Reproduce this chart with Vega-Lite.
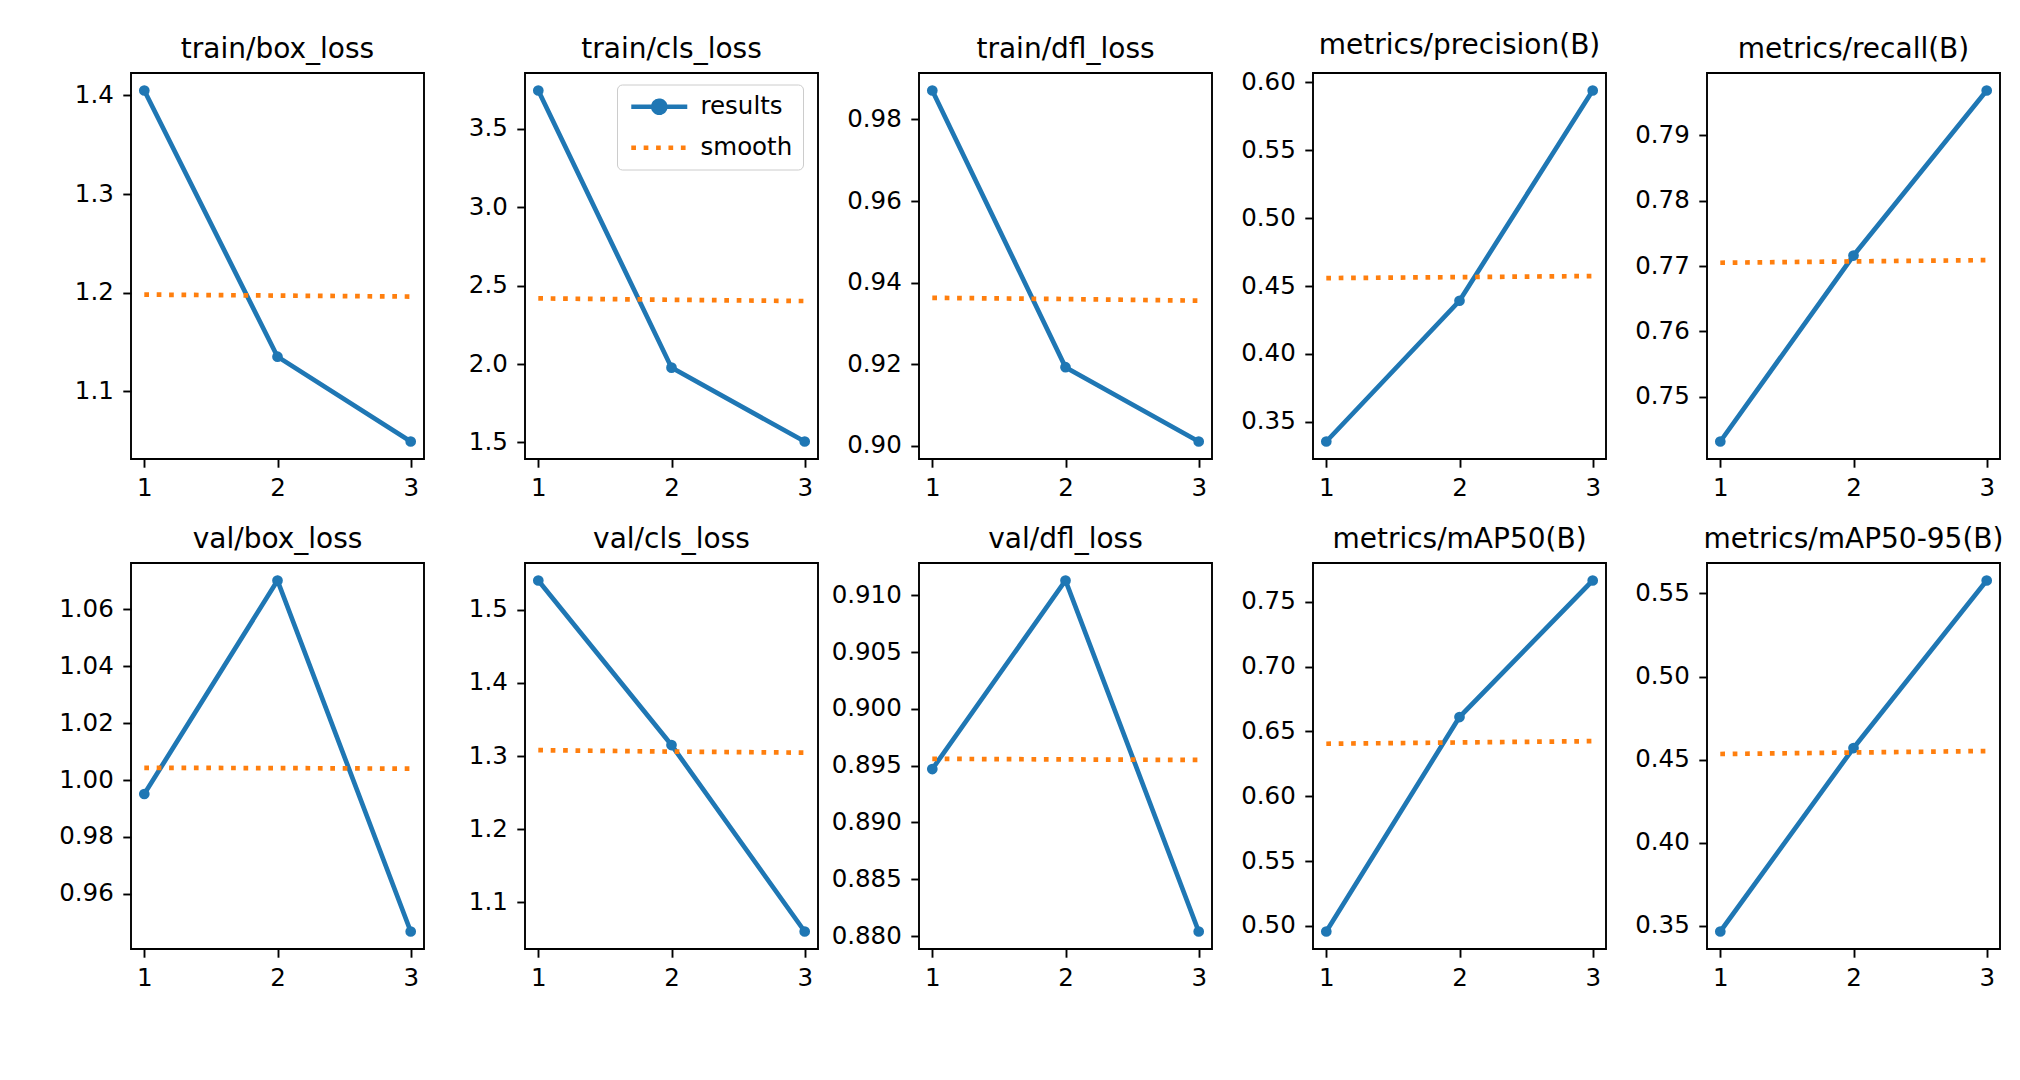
{
  "$schema": "https://vega.github.io/schema/vega-lite/v6.json",
  "background": "white",
  "padding": {"left": 57, "top": 31, "right": 10, "bottom": 10},
  "data": {
    "values": [
      {"metric": "train/box_loss", "epoch": 1, "series": "results", "value": 1.405},
      {"metric": "train/box_loss", "epoch": 2, "series": "results", "value": 1.135},
      {"metric": "train/box_loss", "epoch": 3, "series": "results", "value": 1.049},
      {"metric": "train/box_loss", "epoch": 1, "series": "smooth", "value": 1.198},
      {"metric": "train/box_loss", "epoch": 2, "series": "smooth", "value": 1.197},
      {"metric": "train/box_loss", "epoch": 3, "series": "smooth", "value": 1.196},
      {"metric": "train/cls_loss", "epoch": 1, "series": "results", "value": 3.745},
      {"metric": "train/cls_loss", "epoch": 2, "series": "results", "value": 1.977},
      {"metric": "train/cls_loss", "epoch": 3, "series": "results", "value": 1.506},
      {"metric": "train/cls_loss", "epoch": 1, "series": "smooth", "value": 2.419},
      {"metric": "train/cls_loss", "epoch": 2, "series": "smooth", "value": 2.41},
      {"metric": "train/cls_loss", "epoch": 3, "series": "smooth", "value": 2.402},
      {"metric": "train/dfl_loss", "epoch": 1, "series": "results", "value": 0.9871},
      {"metric": "train/dfl_loss", "epoch": 2, "series": "results", "value": 0.9193},
      {"metric": "train/dfl_loss", "epoch": 3, "series": "results", "value": 0.9011},
      {"metric": "train/dfl_loss", "epoch": 1, "series": "smooth", "value": 0.9363},
      {"metric": "train/dfl_loss", "epoch": 2, "series": "smooth", "value": 0.936},
      {"metric": "train/dfl_loss", "epoch": 3, "series": "smooth", "value": 0.9356},
      {"metric": "metrics/precision(B)", "epoch": 1, "series": "results", "value": 0.3355},
      {"metric": "metrics/precision(B)", "epoch": 2, "series": "results", "value": 0.4392},
      {"metric": "metrics/precision(B)", "epoch": 3, "series": "results", "value": 0.5941},
      {"metric": "metrics/precision(B)", "epoch": 1, "series": "smooth", "value": 0.4559},
      {"metric": "metrics/precision(B)", "epoch": 2, "series": "smooth", "value": 0.4566},
      {"metric": "metrics/precision(B)", "epoch": 3, "series": "smooth", "value": 0.4574},
      {"metric": "metrics/recall(B)", "epoch": 1, "series": "results", "value": 0.7432},
      {"metric": "metrics/recall(B)", "epoch": 2, "series": "results", "value": 0.7716},
      {"metric": "metrics/recall(B)", "epoch": 3, "series": "results", "value": 0.7968},
      {"metric": "metrics/recall(B)", "epoch": 1, "series": "smooth", "value": 0.7705},
      {"metric": "metrics/recall(B)", "epoch": 2, "series": "smooth", "value": 0.7707},
      {"metric": "metrics/recall(B)", "epoch": 3, "series": "smooth", "value": 0.7709},
      {"metric": "val/box_loss", "epoch": 1, "series": "results", "value": 0.9951},
      {"metric": "val/box_loss", "epoch": 2, "series": "results", "value": 1.0701},
      {"metric": "val/box_loss", "epoch": 3, "series": "results", "value": 0.9468},
      {"metric": "val/box_loss", "epoch": 1, "series": "smooth", "value": 1.0043},
      {"metric": "val/box_loss", "epoch": 2, "series": "smooth", "value": 1.0042},
      {"metric": "val/box_loss", "epoch": 3, "series": "smooth", "value": 1.004},
      {"metric": "val/cls_loss", "epoch": 1, "series": "results", "value": 1.54},
      {"metric": "val/cls_loss", "epoch": 2, "series": "results", "value": 1.315},
      {"metric": "val/cls_loss", "epoch": 3, "series": "results", "value": 1.06},
      {"metric": "val/cls_loss", "epoch": 1, "series": "smooth", "value": 1.308},
      {"metric": "val/cls_loss", "epoch": 2, "series": "smooth", "value": 1.306},
      {"metric": "val/cls_loss", "epoch": 3, "series": "smooth", "value": 1.3046},
      {"metric": "val/dfl_loss", "epoch": 1, "series": "results", "value": 0.8947},
      {"metric": "val/dfl_loss", "epoch": 2, "series": "results", "value": 0.9113},
      {"metric": "val/dfl_loss", "epoch": 3, "series": "results", "value": 0.8804},
      {"metric": "val/dfl_loss", "epoch": 1, "series": "smooth", "value": 0.8956},
      {"metric": "val/dfl_loss", "epoch": 2, "series": "smooth", "value": 0.89555},
      {"metric": "val/dfl_loss", "epoch": 3, "series": "smooth", "value": 0.8955},
      {"metric": "metrics/mAP50(B)", "epoch": 1, "series": "results", "value": 0.4956},
      {"metric": "metrics/mAP50(B)", "epoch": 2, "series": "results", "value": 0.6611},
      {"metric": "metrics/mAP50(B)", "epoch": 3, "series": "results", "value": 0.7665},
      {"metric": "metrics/mAP50(B)", "epoch": 1, "series": "smooth", "value": 0.6405},
      {"metric": "metrics/mAP50(B)", "epoch": 2, "series": "smooth", "value": 0.6415},
      {"metric": "metrics/mAP50(B)", "epoch": 3, "series": "smooth", "value": 0.6425},
      {"metric": "metrics/mAP50-95(B)", "epoch": 1, "series": "results", "value": 0.3466},
      {"metric": "metrics/mAP50-95(B)", "epoch": 2, "series": "results", "value": 0.457},
      {"metric": "metrics/mAP50-95(B)", "epoch": 3, "series": "results", "value": 0.5578},
      {"metric": "metrics/mAP50-95(B)", "epoch": 1, "series": "smooth", "value": 0.4534},
      {"metric": "metrics/mAP50-95(B)", "epoch": 2, "series": "smooth", "value": 0.4543},
      {"metric": "metrics/mAP50-95(B)", "epoch": 3, "series": "smooth", "value": 0.4552}
    ]
  },
  "columns": 5,
  "bounds": "flush",
  "spacing": {"column": 101, "row": 104},
  "concat": [
    {
      "title": "train/box_loss",
      "width": 293, "height": 386,
      "transform": [{"filter": {"field": "metric", "equal": "train/box_loss"}}],
      "layer": [
        {
          "transform": [{"filter": {"field": "series", "equal": "results"}}],
          "mark": {"type": "line", "strokeWidth": 4.7, "point": {"filled": true, "size": 115, "opacity": 1}},
          "encoding": {
            "x": {"field": "epoch", "type": "quantitative", "scale": {"domain": [1, 3], "nice": false, "padding": 13.3}, "axis": {"values": [1, 2, 3], "format": "d", "title": null}},
            "y": {"field": "value", "type": "quantitative", "scale": {"zero": false, "nice": false, "padding": 17.5}, "axis": {"title": null}},
            "color": {
              "field": "series", "type": "nominal",
              "scale": {"domain": ["results", "smooth"], "range": ["#1f77b4", "#ff7f0e"]},
              "legend": {
                "orient": "none", "legendX": 486, "legendY": 11.5, "title": null,
                "encode": {
                  "symbols": {
                    "update": {
                      "shape": {"signal": "datum.value === 'results' ? 'M-1.14,0H6.86M2.01,0A0.85,0.85 0 1 1 3.71,0A0.85,0.85 0 1 1 2.01,0' : 'M-1.14,0H6.86'"},
                      "fill": {"signal": "datum.value === 'results' ? '#1f77b4' : 'transparent'"},
                      "stroke": {"signal": "datum.value === 'results' ? '#1f77b4' : '#ff7f0e'"},
                      "strokeDash": {"signal": "datum.value === 'smooth' ? [4.7, 7.7] : [1, 0]"},
                      "strokeWidth": {"value": 4.7},
                      "opacity": {"value": 1}
                    }
                  }
                }
              }
            }
          }
        },
        {
          "transform": [{"filter": {"field": "series", "equal": "smooth"}}],
          "mark": {"type": "line", "strokeWidth": 4.7, "strokeDash": [4.7, 7.7]},
          "encoding": {
            "x": {"field": "epoch", "type": "quantitative"},
            "y": {"field": "value", "type": "quantitative"},
            "color": {"field": "series", "type": "nominal"}
          }
        }
      ]
    },
    {
      "title": "train/cls_loss",
      "width": 293, "height": 386,
      "transform": [{"filter": {"field": "metric", "equal": "train/cls_loss"}}],
      "layer": [
        {
          "transform": [{"filter": {"field": "series", "equal": "results"}}],
          "mark": {"type": "line", "strokeWidth": 4.7, "point": {"filled": true, "size": 115, "opacity": 1}},
          "encoding": {
            "x": {"field": "epoch", "type": "quantitative", "scale": {"domain": [1, 3], "nice": false, "padding": 13.3}, "axis": {"values": [1, 2, 3], "format": "d", "title": null}},
            "y": {"field": "value", "type": "quantitative", "scale": {"zero": false, "nice": false, "padding": 17.5}, "axis": {"title": null}},
            "color": {"field": "series", "type": "nominal"}
          }
        },
        {
          "transform": [{"filter": {"field": "series", "equal": "smooth"}}],
          "mark": {"type": "line", "strokeWidth": 4.7, "strokeDash": [4.7, 7.7]},
          "encoding": {
            "x": {"field": "epoch", "type": "quantitative"},
            "y": {"field": "value", "type": "quantitative"},
            "color": {"field": "series", "type": "nominal"}
          }
        }
      ]
    },
    {
      "title": "train/dfl_loss",
      "width": 293, "height": 386,
      "transform": [{"filter": {"field": "metric", "equal": "train/dfl_loss"}}],
      "layer": [
        {
          "transform": [{"filter": {"field": "series", "equal": "results"}}],
          "mark": {"type": "line", "strokeWidth": 4.7, "point": {"filled": true, "size": 115, "opacity": 1}},
          "encoding": {
            "x": {"field": "epoch", "type": "quantitative", "scale": {"domain": [1, 3], "nice": false, "padding": 13.3}, "axis": {"values": [1, 2, 3], "format": "d", "title": null}},
            "y": {"field": "value", "type": "quantitative", "scale": {"zero": false, "nice": false, "padding": 17.5}, "axis": {"title": null}},
            "color": {"field": "series", "type": "nominal"}
          }
        },
        {
          "transform": [{"filter": {"field": "series", "equal": "smooth"}}],
          "mark": {"type": "line", "strokeWidth": 4.7, "strokeDash": [4.7, 7.7]},
          "encoding": {
            "x": {"field": "epoch", "type": "quantitative"},
            "y": {"field": "value", "type": "quantitative"},
            "color": {"field": "series", "type": "nominal"}
          }
        }
      ]
    },
    {
      "title": "metrics/precision(B)",
      "width": 293, "height": 386,
      "transform": [{"filter": {"field": "metric", "equal": "metrics/precision(B)"}}],
      "layer": [
        {
          "transform": [{"filter": {"field": "series", "equal": "results"}}],
          "mark": {"type": "line", "strokeWidth": 4.7, "point": {"filled": true, "size": 115, "opacity": 1}},
          "encoding": {
            "x": {"field": "epoch", "type": "quantitative", "scale": {"domain": [1, 3], "nice": false, "padding": 13.3}, "axis": {"values": [1, 2, 3], "format": "d", "title": null}},
            "y": {"field": "value", "type": "quantitative", "scale": {"zero": false, "nice": false, "padding": 17.5}, "axis": {"title": null}},
            "color": {"field": "series", "type": "nominal"}
          }
        },
        {
          "transform": [{"filter": {"field": "series", "equal": "smooth"}}],
          "mark": {"type": "line", "strokeWidth": 4.7, "strokeDash": [4.7, 7.7]},
          "encoding": {
            "x": {"field": "epoch", "type": "quantitative"},
            "y": {"field": "value", "type": "quantitative"},
            "color": {"field": "series", "type": "nominal"}
          }
        }
      ]
    },
    {
      "title": "metrics/recall(B)",
      "width": 293, "height": 386,
      "transform": [{"filter": {"field": "metric", "equal": "metrics/recall(B)"}}],
      "layer": [
        {
          "transform": [{"filter": {"field": "series", "equal": "results"}}],
          "mark": {"type": "line", "strokeWidth": 4.7, "point": {"filled": true, "size": 115, "opacity": 1}},
          "encoding": {
            "x": {"field": "epoch", "type": "quantitative", "scale": {"domain": [1, 3], "nice": false, "padding": 13.3}, "axis": {"values": [1, 2, 3], "format": "d", "title": null}},
            "y": {"field": "value", "type": "quantitative", "scale": {"zero": false, "nice": false, "padding": 17.5}, "axis": {"title": null}},
            "color": {"field": "series", "type": "nominal"}
          }
        },
        {
          "transform": [{"filter": {"field": "series", "equal": "smooth"}}],
          "mark": {"type": "line", "strokeWidth": 4.7, "strokeDash": [4.7, 7.7]},
          "encoding": {
            "x": {"field": "epoch", "type": "quantitative"},
            "y": {"field": "value", "type": "quantitative"},
            "color": {"field": "series", "type": "nominal"}
          }
        }
      ]
    },
    {
      "title": "val/box_loss",
      "width": 293, "height": 386,
      "transform": [{"filter": {"field": "metric", "equal": "val/box_loss"}}],
      "layer": [
        {
          "transform": [{"filter": {"field": "series", "equal": "results"}}],
          "mark": {"type": "line", "strokeWidth": 4.7, "point": {"filled": true, "size": 115, "opacity": 1}},
          "encoding": {
            "x": {"field": "epoch", "type": "quantitative", "scale": {"domain": [1, 3], "nice": false, "padding": 13.3}, "axis": {"values": [1, 2, 3], "format": "d", "title": null}},
            "y": {"field": "value", "type": "quantitative", "scale": {"zero": false, "nice": false, "padding": 17.5}, "axis": {"title": null}},
            "color": {"field": "series", "type": "nominal"}
          }
        },
        {
          "transform": [{"filter": {"field": "series", "equal": "smooth"}}],
          "mark": {"type": "line", "strokeWidth": 4.7, "strokeDash": [4.7, 7.7]},
          "encoding": {
            "x": {"field": "epoch", "type": "quantitative"},
            "y": {"field": "value", "type": "quantitative"},
            "color": {"field": "series", "type": "nominal"}
          }
        }
      ]
    },
    {
      "title": "val/cls_loss",
      "width": 293, "height": 386,
      "transform": [{"filter": {"field": "metric", "equal": "val/cls_loss"}}],
      "layer": [
        {
          "transform": [{"filter": {"field": "series", "equal": "results"}}],
          "mark": {"type": "line", "strokeWidth": 4.7, "point": {"filled": true, "size": 115, "opacity": 1}},
          "encoding": {
            "x": {"field": "epoch", "type": "quantitative", "scale": {"domain": [1, 3], "nice": false, "padding": 13.3}, "axis": {"values": [1, 2, 3], "format": "d", "title": null}},
            "y": {"field": "value", "type": "quantitative", "scale": {"zero": false, "nice": false, "padding": 17.5}, "axis": {"title": null}},
            "color": {"field": "series", "type": "nominal"}
          }
        },
        {
          "transform": [{"filter": {"field": "series", "equal": "smooth"}}],
          "mark": {"type": "line", "strokeWidth": 4.7, "strokeDash": [4.7, 7.7]},
          "encoding": {
            "x": {"field": "epoch", "type": "quantitative"},
            "y": {"field": "value", "type": "quantitative"},
            "color": {"field": "series", "type": "nominal"}
          }
        }
      ]
    },
    {
      "title": "val/dfl_loss",
      "width": 293, "height": 386,
      "transform": [{"filter": {"field": "metric", "equal": "val/dfl_loss"}}],
      "layer": [
        {
          "transform": [{"filter": {"field": "series", "equal": "results"}}],
          "mark": {"type": "line", "strokeWidth": 4.7, "point": {"filled": true, "size": 115, "opacity": 1}},
          "encoding": {
            "x": {"field": "epoch", "type": "quantitative", "scale": {"domain": [1, 3], "nice": false, "padding": 13.3}, "axis": {"values": [1, 2, 3], "format": "d", "title": null}},
            "y": {"field": "value", "type": "quantitative", "scale": {"zero": false, "nice": false, "padding": 17.5}, "axis": {"title": null}},
            "color": {"field": "series", "type": "nominal"}
          }
        },
        {
          "transform": [{"filter": {"field": "series", "equal": "smooth"}}],
          "mark": {"type": "line", "strokeWidth": 4.7, "strokeDash": [4.7, 7.7]},
          "encoding": {
            "x": {"field": "epoch", "type": "quantitative"},
            "y": {"field": "value", "type": "quantitative"},
            "color": {"field": "series", "type": "nominal"}
          }
        }
      ]
    },
    {
      "title": "metrics/mAP50(B)",
      "width": 293, "height": 386,
      "transform": [{"filter": {"field": "metric", "equal": "metrics/mAP50(B)"}}],
      "layer": [
        {
          "transform": [{"filter": {"field": "series", "equal": "results"}}],
          "mark": {"type": "line", "strokeWidth": 4.7, "point": {"filled": true, "size": 115, "opacity": 1}},
          "encoding": {
            "x": {"field": "epoch", "type": "quantitative", "scale": {"domain": [1, 3], "nice": false, "padding": 13.3}, "axis": {"values": [1, 2, 3], "format": "d", "title": null}},
            "y": {"field": "value", "type": "quantitative", "scale": {"zero": false, "nice": false, "padding": 17.5}, "axis": {"title": null}},
            "color": {"field": "series", "type": "nominal"}
          }
        },
        {
          "transform": [{"filter": {"field": "series", "equal": "smooth"}}],
          "mark": {"type": "line", "strokeWidth": 4.7, "strokeDash": [4.7, 7.7]},
          "encoding": {
            "x": {"field": "epoch", "type": "quantitative"},
            "y": {"field": "value", "type": "quantitative"},
            "color": {"field": "series", "type": "nominal"}
          }
        }
      ]
    },
    {
      "title": "metrics/mAP50-95(B)",
      "width": 293, "height": 386,
      "transform": [{"filter": {"field": "metric", "equal": "metrics/mAP50-95(B)"}}],
      "layer": [
        {
          "transform": [{"filter": {"field": "series", "equal": "results"}}],
          "mark": {"type": "line", "strokeWidth": 4.7, "point": {"filled": true, "size": 115, "opacity": 1}},
          "encoding": {
            "x": {"field": "epoch", "type": "quantitative", "scale": {"domain": [1, 3], "nice": false, "padding": 13.3}, "axis": {"values": [1, 2, 3], "format": "d", "title": null}},
            "y": {"field": "value", "type": "quantitative", "scale": {"zero": false, "nice": false, "padding": 17.5}, "axis": {"title": null}},
            "color": {"field": "series", "type": "nominal"}
          }
        },
        {
          "transform": [{"filter": {"field": "series", "equal": "smooth"}}],
          "mark": {"type": "line", "strokeWidth": 4.7, "strokeDash": [4.7, 7.7]},
          "encoding": {
            "x": {"field": "epoch", "type": "quantitative"},
            "y": {"field": "value", "type": "quantitative"},
            "color": {"field": "series", "type": "nominal"}
          }
        }
      ]
    }
  ],
  "config": {
    "font": "DejaVu Sans",
    "view": {"stroke": "black", "strokeWidth": 1.9},
    "axis": {
      "domain": false,
      "grid": false,
      "ticks": true,
      "tickColor": "black",
      "tickWidth": 1.9,
      "tickSize": 8.2,
      "labelPadding": 9.5,
      "labelFont": "DejaVu Sans",
      "labelFontSize": 24.5,
      "labelColor": "black",
      "labelFlush": false
    },
    "axisY": {"tickCount": 5},
    "title": {
      "font": "DejaVu Sans",
      "fontSize": 28,
      "fontWeight": "normal",
      "color": "black",
      "anchor": "middle",
      "baseline": "alphabetic",
      "offset": 9
    },
    "legend": {
      "labelFont": "DejaVu Sans",
      "labelFontSize": 24.5,
      "labelColor": "black",
      "fillColor": "rgba(255,255,255,0.8)",
      "strokeColor": "#cccccc",
      "cornerRadius": 5,
      "padding": 10,
      "symbolSize": 196,
      "symbolType": "M-1.14,0H6.86",
      "symbolStrokeWidth": 4.7,
      "labelOffset": 49,
      "rowPadding": 12
    }
  }
}
